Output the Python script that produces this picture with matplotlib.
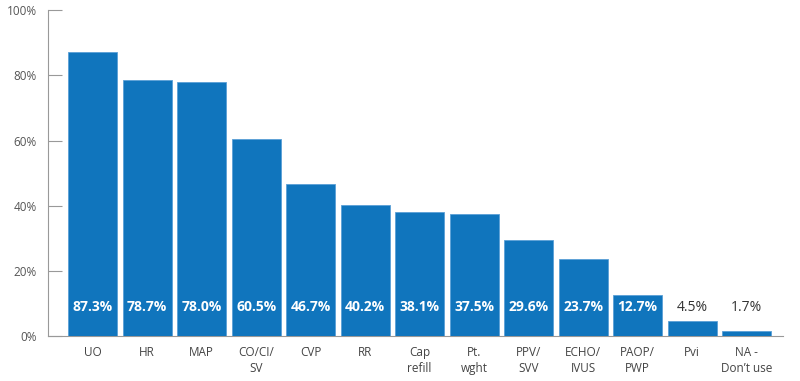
import matplotlib.pyplot as plt
from matplotlib.ticker import FuncFormatter

categories = ['UO', 'HR', 'MAP', 'CO/CI/\nSV', 'CVP', 'RR', 'Cap\nrefill', 'Pt.\nwght',
              'PPV/\nSVV', 'ECHO/\nIVUS', 'PAOP/\nPWP', 'Pvi', 'NA -\nDon\u2019t use']
values = [87.3, 78.7, 78.0, 60.5, 46.7, 40.2, 38.1, 37.5, 29.6, 23.7, 12.7, 4.5, 1.7]

plt.rcParams['font.family'] = ['Open Sans', 'DejaVu Sans']

fig = plt.figure(figsize=(8, 3.81), dpi=100)
ax = fig.add_axes([0.06, 0.118, 0.919, 0.855])

pos = range(len(values))
ax.bar(pos, values, width=0.9, color='#1075bd', edgecolor='#5a9fd6', linewidth=0.6, zorder=3)

for i, v in zip(pos, values):
    if v > 10:
        ax.text(i, 8.9, f'{v:.1f}%', ha='center', va='center', color='white',
                fontsize=10, fontweight='bold')
    else:
        ax.text(i, 8.9, f'{v:.1f}%', ha='center', va='center', color='#333333',
                fontsize=10)

ax.set_xlim(-0.82, 12.67)
ax.set_ylim(0, 100)
ax.set_yticks(range(0, 101, 20))
ax.yaxis.set_major_formatter(FuncFormatter(lambda y, p: f'{int(y)}%'))
ax.set_xticks(list(pos))
ax.set_xticklabels(categories, fontsize=8.5, color='#444444', linespacing=1.3)
ax.tick_params(axis='x', length=0, pad=7)
ax.tick_params(axis='y', direction='in', length=10, color='#999999', labelsize=8.5,
               labelcolor='#555555', pad=8)

for s in ['top', 'right']:
    ax.spines[s].set_visible(False)
ax.spines['left'].set_color('#999999')
ax.spines['bottom'].set_color('#999999')

fig.savefig('out.png', dpi=100)
